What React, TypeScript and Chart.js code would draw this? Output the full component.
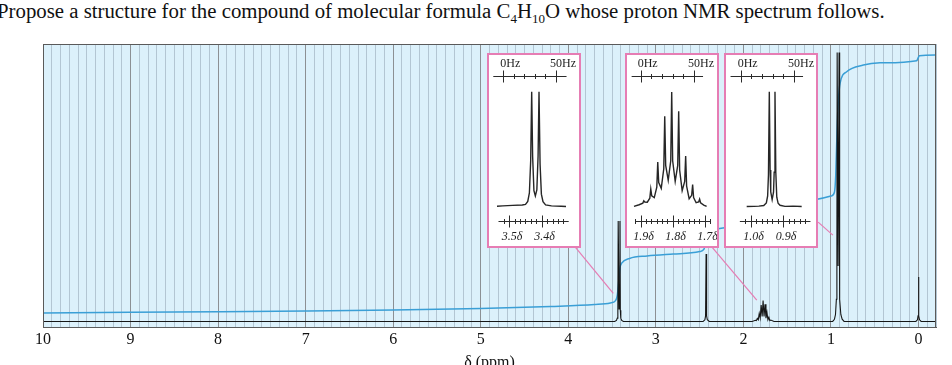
import React, { useEffect, useRef } from 'react';
import { Chart, registerables } from 'chart.js';

Chart.register(...registerables);

// ---------------- main spectrum (δ in ppm, intensity) ----------------
const axisLabels = [10, 9, 8, 7, 6, 5, 4, 3, 2, 1, 0];

const baselineStart: [number, number][] = [[10, 0]];
const peakOCH2: [number, number][] = [
  [3.47, 0], [3.45, 0.4], [3.44, 1.2], [3.434, 4], [3.43, 36.2], [3.42, 4.5],
  [3.41, 36.2], [3.406, 4], [3.4, 1.2], [3.39, 0.4], [3.37, 0],
];
const peakOH: [number, number][] = [
  [2.46, 0], [2.44, 0.6], [2.432, 2], [2.426, 24.3], [2.42, 2], [2.412, 0.6], [2.39, 0],
];
const peakCH: [number, number][] = [
  [1.9, 0], [1.863, 0.4], [1.852, 0.3], [1.841, 1.1], [1.83, 0.6], [1.819, 2.9],
  [1.808, 1.2], [1.797, 5.9], [1.786, 1.8], [1.775, 7.5], [1.764, 1.8], [1.753, 6.2],
  [1.742, 1.2], [1.731, 3.3], [1.72, 0.6], [1.709, 1.5], [1.698, 0.3], [1.687, 0.5], [1.65, 0],
];
const peakCH3: [number, number][] = [
  [0.98, 0], [0.96, 0.8], [0.948, 2.5], [0.938, 8], [0.932, 30], [0.929, 96.9], [0.918, 20],
  [0.907, 96.9], [0.904, 30], [0.897, 8], [0.887, 2.5], [0.872, 0.8], [0.85, 0],
];
const peakTMS: [number, number][] = [
  [0.03, 0], [0.012, 0.6], [0.005, 2], [0, 16], [-0.005, 2], [-0.012, 0.6], [-0.03, 0],
];
const baselineEnd: [number, number][] = [[-0.2, 0]];

const integralCurve: [number, number][] = [
  [10, 3.05], [9, 3.3], [8, 3.5], [7, 3.75], [6, 4.1], [5, 4.65], [4.2, 5.4], [3.7, 6.1],
  [3.52, 6.65], [3.46, 7.5], [3.44, 9.5], [3.425, 14.2], [3.41, 19.3], [3.39, 21], [3.3, 22.7],
  [3.1, 23.6], [2.8, 24.3], [2.5, 25.2], [2.45, 26.1], [2.43, 28.3], [2.41, 30.8], [2.35, 32.6],
  [2.2, 33.9], [1.95, 34.8], [1.86, 35.5], [1.8, 37.3], [1.77, 39.8], [1.72, 41.6], [1.6, 42.7],
  [1.2, 43.8], [1.0, 45.2], [0.96, 46.6], [0.945, 52.8], [0.93, 69], [0.915, 79.8], [0.895, 85.9],
  [0.82, 90], [0.63, 92.4], [0.44, 93.2], [0.02, 94], [0.005, 94.9], [-0.01, 95.8], [-0.2, 96],
];

const connectorOCH2: [number, number][] = [[3.918, 26.7], [3.486, 10.1]];
const connectorCH: [number, number][] = [[2.361, 26.9], [1.847, 7.7]];
const connectorCH3: [number, number][] = [[1.146, 35.8], [0.978, 31.1]];

// ---------------- inset expansions ----------------
const inset1Trace: [number, number][] = [
  [3.538, 0.5], [3.52, 0.8], [3.49, 1.2], [3.46, 1.6], [3.45, 2.1], [3.443, 4.7], [3.438, 12],
  [3.434, 40], [3.4309, 100], [3.428, 44], [3.424, 14], [3.4196, 9.4], [3.415, 14.6],
  [3.4112, 44], [3.4083, 100], [3.405, 37], [3.401, 11], [3.396, 4.4], [3.388, 1.7],
  [3.37, 0.8], [3.34, 0.5], [3.325, 0.3],
];
const inset2Trace: [number, number][] = [
  [1.921, 0.3], [1.905, 1.8], [1.8933, 3.2], [1.8903, 5.2], [1.8873, 4.2], [1.8794, 4],
  [1.8715, 7.5], [1.8685, 15.4], [1.8655, 9.5], [1.8576, 8],
  [1.8497, 17], [1.8467, 39], [1.8437, 21], [1.8358, 16],
  [1.8279, 33], [1.8249, 78.7], [1.8219, 36], [1.814, 23],
  [1.8061, 40], [1.8031, 99.7], [1.8001, 40], [1.7922, 22],
  [1.7843, 36], [1.7813, 83], [1.7783, 32], [1.7704, 14],
  [1.7625, 22], [1.7595, 44.2], [1.7565, 18], [1.7486, 7],
  [1.7407, 10], [1.7377, 19.4], [1.7347, 8], [1.7268, 3.5],
  [1.7189, 4.2], [1.7159, 6.7], [1.7129, 3.5], [1.703, 1.5], [1.694, 0.3],
];
const inset3Trace: [number, number][] = [
  [1.0123, 0.3], [0.99, 0.4], [0.975, 0.6], [0.96, 1.1], [0.952, 3.4], [0.948, 9.4],
  [0.9455, 28], [0.9429, 100], [0.9405, 32], [0.9385, 13], [0.9342, 6.3], [0.93, 12.7],
  [0.928, 30], [0.9255, 100], [0.923, 30], [0.92, 8.3], [0.916, 3.1], [0.91, 1.3],
  [0.895, 0.4], [0.87, 0.6], [0.8436, 0.3],
];
const inset1DeltaLabels = [3.5, 3.4];
const inset2DeltaLabels = [1.9, 1.8, 1.7];
const inset3DeltaLabels = [1.0, 0.9];
const hzTickValues = [0, 10, 20, 30, 40, 50];
const hzLabelValues = [0, 50];

// ---------------- layout / style ----------------
const BOX_TOP = 53;
const BOX_W = 94;
const BOX_H = 195;
const BORDER = 2;
const INNER_W = BOX_W - 2 * BORDER;
const INNER_H = BOX_H - 2 * BORDER;
const INNER_TOP = BOX_TOP + BORDER;
const TRACE_BASE_Y = 206.8;
const TRACE_TOP_Y = 91.7;
const HZ_RULER_Y = 76;
const HZ_LABEL_Y = 63.5;
const D_RULER_Y = 221;
const D_LABEL_Y = 237;
const PINK = '#e67db4';

interface InsetDef {
  left: number;
  trace: [number, number][];
  labels: number[];
  anchor: number;
  anchorX: number;
  pxPerPpm: number;
  hzZeroX: number;
  pxPerHz: number;
  hzFrom: number;
  hzTo: number;
  dFrom: number;
  dTo: number;
}

const insets: InsetDef[] = [
  { left: 487, trace: inset1Trace, labels: inset1DeltaLabels, anchor: 3.5, anchorX: 509.3, pxPerPpm: 324,
    hzZeroX: 503.3, pxPerHz: 1.054, hzFrom: -9.5, hzTo: 60, dFrom: 3.5333, dTo: 3.3167 },
  { left: 625, trace: inset2Trace, labels: inset2DeltaLabels, anchor: 1.9, anchorX: 640.7, pxPerPpm: 320,
    hzZeroX: 640.7, pxPerHz: 1.066, hzFrom: -8.5, hzTo: 58.5, dFrom: 1.9167, dTo: 1.6833 },
  { left: 724, trace: inset3Trace, labels: inset3DeltaLabels, anchor: 1.0, anchorX: 750.7, pxPerPpm: 326,
    hzZeroX: 740.7, pxPerHz: 1.066, hzFrom: -9.5, hzTo: 58.5, dFrom: 1.0333, dTo: 0.8167 },
];

const isMajor = (v: number) => axisLabels.some((l) => Math.abs(v - l) < 1e-6);
const pts = (a: [number, number][]) => a.map(([x, y]) => ({ x, y }));

const framePlugin = {
  id: 'frame',
  beforeDraw(chart: any) {
    const { ctx, chartArea } = chart;
    const { left, top, right, bottom } = chartArea;
    ctx.save();
    ctx.fillStyle = '#dcf1fb';
    ctx.fillRect(left, top, right - left, bottom - top);
    ctx.restore();
  },
  afterDraw(chart: any) {
    const { ctx, chartArea } = chart;
    const { left, top, right, bottom } = chartArea;
    ctx.save();
    ctx.strokeStyle = '#5a5a5a';
    ctx.lineWidth = 1;
    ctx.strokeRect(Math.round(left) + 0.5, Math.round(top) + 0.5, Math.round(right - left) - 1, Math.round(bottom - top));
    ctx.restore();
  },
};

const rulerPlugin = {
  id: 'rulers',
  afterDraw(chart: any, _args: any, opts: any) {
    const { ctx } = chart;
    const xs = chart.scales.x;
    const hs = chart.scales.hz;
    ctx.save();
    ctx.strokeStyle = '#2b2b2b';
    ctx.fillStyle = '#1e1e1e';
    ctx.lineWidth = 1;
    const hline = (x1: number, x2: number, y: number) => {
      ctx.beginPath();
      ctx.moveTo(x1, Math.round(y) + 0.5);
      ctx.lineTo(x2, Math.round(y) + 0.5);
      ctx.stroke();
    };
    const vtick = (x: number, y: number, h: number) => {
      const xx = Math.round(x) + 0.5;
      ctx.beginPath();
      ctx.moveTo(xx, y - h);
      ctx.lineTo(xx, y + h);
      ctx.stroke();
    };
    // Hz ruler
    const hy = opts.hzY;
    hline(hs.getPixelForValue(opts.hzFrom), hs.getPixelForValue(opts.hzTo), hy);
    for (const v of hzTickValues) {
      vtick(hs.getPixelForValue(v), Math.round(hy) + 0.5, hzLabelValues.includes(v) ? 6 : 2.5);
    }
    ctx.font = '12px "Liberation Serif", serif';
    ctx.textBaseline = 'middle';
    ctx.textAlign = 'left';
    for (const v of hzLabelValues) {
      const num = String(v);
      const w = ctx.measureText(num).width;
      ctx.fillText(num + 'Hz', hs.getPixelForValue(v) - w / 2, opts.hzLabelY);
    }
    // δ ruler
    const dy = opts.dY;
    hline(xs.getPixelForValue(opts.dFrom), xs.getPixelForValue(opts.dTo), dy);
    const step = 1 / 60;
    const base = opts.labels[0];
    for (let k = -20; k <= 40; k++) {
      const v = base - k * step;
      if (v > opts.dFrom + 1e-6 || v < opts.dTo - 1e-6) continue;
      const major = opts.labels.some((l: number) => Math.abs(l - v) < 1e-6);
      vtick(xs.getPixelForValue(v), Math.round(dy) + 0.5, major ? 6 : 2.5);
    }
    ctx.font = 'italic 12px "Liberation Serif", serif';
    for (const v of opts.labels) {
      const num = v.toFixed(1);
      const w = ctx.measureText(num).width;
      ctx.fillText(num + 'δ', xs.getPixelForValue(v) - w / 2, opts.dLabelY);
    }
    ctx.restore();
  },
};

export default function App() {
  const mainRef = useRef<HTMLCanvasElement | null>(null);
  const insetRefs = useRef<(HTMLCanvasElement | null)[]>([]);

  useEffect(() => {
    const charts: Chart[] = [];
    const spectrum = [
      ...baselineStart, ...peakOCH2, ...peakOH, ...peakCH, ...peakCH3, ...peakTMS, ...baselineEnd,
    ];
    const line = (data: [number, number][], color: string, width: number, extra: any = {}) => ({
      data: pts(data), borderColor: color, borderWidth: width, pointRadius: 0, fill: false, tension: 0, ...extra,
    });
    if (mainRef.current) {
      charts.push(new Chart(mainRef.current, {
        type: 'line',
        data: {
          datasets: [
            line(spectrum, '#161616', 1.1),
            line(integralCurve, '#3a9fd6', 1.5, { cubicInterpolationMode: 'monotone', tension: 0.4 }),
            line(connectorOCH2, PINK, 1.2),
            line(connectorCH, PINK, 1.2),
            line(connectorCH3, PINK, 1.2),
          ],
        } as any,
        options: {
          animation: false,
          responsive: false,
          events: [],
          layout: { padding: { left: 43, right: 16, top: 44, bottom: 0 } },
          plugins: { legend: { display: false }, tooltip: { enabled: false } },
          scales: {
            x: {
              type: 'linear',
              reverse: true,
              min: -0.2,
              max: 10,
              afterFit: (s: any) => { s.height = 53; },
              border: { color: '#5a5a5a', width: 1 },
              grid: {
                drawTicks: false,
                lineWidth: 1,
                color: (c: any) => (c.tick && isMajor(c.tick.value) ? '#8c9094' : '#b3c6d3'),
              },
              ticks: {
                stepSize: 0.1,
                maxTicksLimit: 500,
                autoSkip: false,
                maxRotation: 0,
                padding: 3,
                color: '#111',
                font: { family: '"Liberation Serif", serif', size: 16 },
                callback: (v: any) => (isMajor(Number(v)) ? String(Math.round(Number(v))) : ''),
              },
              title: {
                display: true,
                text: 'δ (ppm)',
                color: '#111',
                font: { family: '"Liberation Serif", serif', size: 16 },
                padding: { top: 0, bottom: 8 },
              },
            },
            y: { type: 'linear', display: false, min: -2, max: 100 },
          },
        } as any,
        plugins: [framePlugin],
      }));
    }

    insets.forEach((d, i) => {
      const cv = insetRefs.current[i];
      if (!cv) return;
      const innerL = d.left + BORDER;
      const innerR = innerL + INNER_W;
      const xMax = d.anchor + (d.anchorX - innerL) / d.pxPerPpm;
      const xMin = d.anchor - (innerR - d.anchorX) / d.pxPerPpm;
      const hzMin = (innerL - d.hzZeroX) / d.pxPerHz;
      const hzMax = (innerR - d.hzZeroX) / d.pxPerHz;
      const pxPerU = (TRACE_BASE_Y - TRACE_TOP_Y) / 100;
      const yMin = -((INNER_TOP + INNER_H) - TRACE_BASE_Y) / pxPerU;
      const yMax = 100 + (TRACE_TOP_Y - INNER_TOP) / pxPerU;
      charts.push(new Chart(cv, {
        type: 'line',
        data: { datasets: [line(d.trace, '#262626', 1.4)] } as any,
        options: {
          animation: false,
          responsive: false,
          events: [],
          layout: { padding: 0 },
          plugins: {
            legend: { display: false },
            tooltip: { enabled: false },
            rulers: {
              hzY: HZ_RULER_Y - INNER_TOP, hzLabelY: HZ_LABEL_Y - INNER_TOP,
              dY: D_RULER_Y - INNER_TOP, dLabelY: D_LABEL_Y - INNER_TOP,
              hzFrom: d.hzFrom, hzTo: d.hzTo, dFrom: d.dFrom, dTo: d.dTo, labels: d.labels,
            },
          },
          scales: {
            x: { type: 'linear', reverse: true, min: xMin, max: xMax, display: false },
            hz: { type: 'linear', axis: 'x', position: 'bottom', min: hzMin, max: hzMax, display: false },
            y: { type: 'linear', min: yMin, max: yMax, display: false },
          },
        } as any,
        plugins: [rulerPlugin],
      }));
    });

    return () => { charts.forEach((c) => c.destroy()); };
  }, []);

  return (
    <div style={{ position: 'absolute', left: 0, top: 0, width: 952, height: 365, overflow: 'hidden', background: '#fff' }}>
      <div style={{ position: 'absolute', left: -3, top: 0, whiteSpace: 'nowrap', fontFamily: '"Liberation Serif", serif', fontSize: 20.8, lineHeight: '22px', color: '#111' }}>
        Propose a structure for the compound of molecular formula C<sub style={{ fontSize: 13 }}>4</sub>H<sub style={{ fontSize: 13 }}>10</sub>O whose proton NMR spectrum follows.
      </div>
      <canvas ref={mainRef} width={952} height={380} style={{ position: 'absolute', left: 0, top: 0 }} />
      {insets.map((d, i) => (
        <div key={i} style={{ position: 'absolute', left: d.left, top: BOX_TOP, width: BOX_W, height: BOX_H, boxSizing: 'border-box', border: `${BORDER}px solid ${PINK}`, background: '#fff' }}>
          <canvas ref={(el) => { insetRefs.current[i] = el; }} width={INNER_W} height={INNER_H} style={{ display: 'block' }} />
        </div>
      ))}
    </div>
  );
}
